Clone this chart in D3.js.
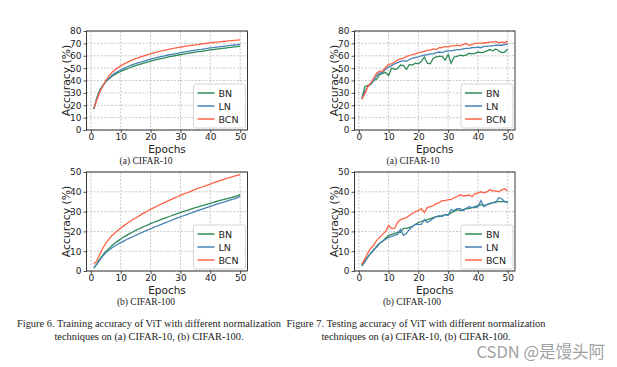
<!DOCTYPE html>
<html>
<head>
<meta charset="utf-8">
<script src="https://cdn.jsdelivr.net/npm/d3@7"></script>
<style>
  body { margin: 0; background: #fff; }
  svg { display: block; }
</style>
</head>
<body>
<svg id="fig" width="617" height="367"></svg>
<script>
// epochs 1..50
const epochs = d3.range(1, 51);
const seriesNames = ["BN", "LN", "BCN"];

// Fig 6 (a) training, CIFAR-10
const trainC10_BN = [17,26,32.5,36,39,41.3,43.2,44.8,46.1,47.3,48.4,49.4,50.3,51.2,52,52.8,53.5,54.2,54.9,55.6,56.2,56.8,57.4,57.9,58.5,59,59.5,60,60.4,60.9,61.3,61.7,62.1,62.5,62.9,63.3,63.6,64,64.3,64.7,65,65.3,65.6,65.9,66.2,66.5,66.8,67.1,67.3,67.6];
const trainC10_LN = [17,25,31.5,35.5,39,41.8,44,45.8,47.3,48.6,49.8,50.9,51.9,52.8,53.6,54.4,55.1,55.8,56.5,57.2,57.8,58.4,59,59.5,60.1,60.6,61.1,61.6,62,62.5,62.9,63.3,63.7,64.1,64.5,64.9,65.2,65.6,65.9,66.3,66.6,66.9,67.2,67.5,67.8,68.1,68.4,68.7,68.9,69.2];
const trainC10_BCN = [17.5,24,30.5,35.5,40,43.5,46.2,48.4,50.2,51.8,53.2,54.5,55.6,56.6,57.6,58.5,59.3,60.1,60.9,61.6,62.3,62.9,63.5,64.1,64.6,65.1,65.6,66.1,66.5,66.9,67.3,67.7,68.1,68.5,68.8,69.2,69.5,69.8,70.1,70.4,70.7,71,71.2,71.5,71.7,72,72.2,72.4,72.6,72.8];

// Fig 7 (a) testing, CIFAR-10
const testC10_BN = [25,35,36,37,40,41,45,45.5,46.5,44,50,49,49.5,52.5,52,49,53,52.5,54,53.5,55.5,59,54,53.5,58,59,59.5,59.5,56.5,61,54,59,59.5,60.5,60,60.5,62,61.5,62,63,62.5,63,64,65,64,65.5,64,62.5,63,65.5];
const testC10_LN = [25,31,35,37,40,44,46,46.5,49,51,52,53.5,54.5,55.5,56,55.5,57,58,58.5,59,60,60.5,61,61.5,61.5,62.5,63,62.5,63.5,64,64,64.5,65,65,65.5,66,66,66.5,66.5,67,66.5,67.5,67.5,68,68,68.5,68.5,68.5,69,69.5];
const testC10_BCN = [25,29,35,38,42,46,47.5,47.5,50.5,53,53.5,55,56.5,57.5,58,59.5,60,61,61.5,62.5,63,63.5,64.5,64.5,65.5,65,66.5,66.5,67.5,67,68,68,68.5,68,69,70,68.5,69,70,70,70,70.5,70.5,71,71,71.5,70.5,71,70.5,72];

// Fig 6 (b) training, CIFAR-100
const trainC100_BN = [1.5,3.5,6,8,9.8,11.3,12.7,14,15.1,16.2,17.1,18,18.9,19.7,20.5,21.2,21.9,22.6,23.2,23.9,24.5,25.1,25.7,26.3,26.8,27.4,27.9,28.5,29,29.5,30,30.5,31,31.5,32,32.4,32.9,33.3,33.8,34.2,34.7,35.1,35.5,35.9,36.3,36.7,37.1,37.5,37.9,38.6];
const trainC100_LN = [1.5,3.5,5.5,7.5,9.2,10.5,11.6,12.6,13.5,14.3,15.1,15.9,16.6,17.3,18,18.7,19.4,20,20.7,21.3,22,22.6,23.2,23.8,24.4,25,25.6,26.2,26.8,27.3,27.9,28.4,29,29.5,30.1,30.6,31.1,31.6,32.1,32.6,33.1,33.6,34.1,34.5,35,35.5,36,36.4,36.9,37.9];
const trainC100_BCN = [3.5,5,8.5,11.5,14,16,17.8,19.2,20.5,21.7,22.8,23.9,24.9,25.9,26.8,27.7,28.6,29.5,30.3,31.1,31.9,32.7,33.4,34.1,34.8,35.5,36.2,36.9,37.5,38.2,38.8,39.4,40,40.6,41.2,41.8,42.3,42.9,43.4,43.9,44.5,45,45.5,46,46.5,47,47.4,47.9,48.3,48.7];

// Fig 7 (b) testing, CIFAR-100
const testC100_BN = [2.5,4.5,7,9,10.5,12.5,14,15,16.5,18,18.5,19,19.5,19.5,21.5,21.5,22,22.5,23.5,24.5,25,25.5,26,26.5,27,27.5,27.5,28,28.5,28.5,29.5,30,31,30.5,31,31.5,31.5,32,32.5,33,33.5,33,33.5,34,34.5,35,35,35,35,35];
const testC100_LN = [3,5,7,9,11,12,14,15,16,17,17.5,18,18.5,21,18,19,21,22.5,23.5,23.5,23.5,26,24.5,25.5,26.5,27.5,28,27.5,28.5,28,31,30.5,31.5,31.5,30.5,31.5,32.5,32,32,32.5,35.5,32.5,33.5,34,34.5,34.5,37,36.5,35,34.5];
const testC100_BCN = [3.5,6,9,11.5,13,15.5,17,18.5,20,23,21.5,21.5,24.5,26,26.5,27,28,29,30,30.5,31.5,29.5,32,32.5,33,34,34.5,35.5,35.5,36,36,37,37.5,38.5,38,38,38.5,37.5,39,39.5,40,39.5,40,41,40.5,40.5,40,41,41.5,40.5];

const xTicks = [0, 10, 20, 30, 40, 50];
const yTicksC10 = [0, 10, 20, 30, 40, 50, 60, 70, 80];
const yTicksC100 = [0, 10, 20, 30, 40, 50];

const colors = { BN: "#2e8b57", LN: "#4682b4", BCN: "#ff6347" };

const svg = d3.select("#fig");

function drawPanel(box, yTicks, data, caption) {
  const x = d3.scaleLinear().domain([1 - 2.45, 50 + 2.45]).range([box.left, box.right]);
  const y = d3.scaleLinear().domain([0, d3.max(yTicks)]).range([box.bottom, box.top]);
  const g = svg.append("g");

  // grid
  g.selectAll(".gx").data(xTicks).enter().append("line")
    .attr("x1", d => x(d)).attr("x2", d => x(d))
    .attr("y1", box.top).attr("y2", box.bottom)
    .attr("stroke", "#b0b0b0").attr("stroke-width", 0.7).attr("stroke-dasharray", "2,1.5");
  g.selectAll(".gy").data(yTicks).enter().append("line")
    .attr("x1", box.left).attr("x2", box.right)
    .attr("y1", d => y(d)).attr("y2", d => y(d))
    .attr("stroke", "#b0b0b0").attr("stroke-width", 0.7).attr("stroke-dasharray", "2,1.5");

  // lines
  const line = d3.line().x((d, i) => x(epochs[i])).y(d => y(d));
  seriesNames.forEach(function(name) {
    g.append("path")
      .attr("d", line(data[name]))
      .attr("fill", "none")
      .attr("stroke", colors[name])
      .attr("stroke-width", 1.3);
  });

  // axes
  const xAxis = d3.axisBottom(x).tickValues(xTicks).tickSize(3).tickPadding(1).tickSizeOuter(0);
  const yAxis = d3.axisLeft(y).tickValues(yTicks).tickSize(3).tickPadding(2).tickSizeOuter(0);
  const ax = g.append("g").attr("transform", "translate(0," + box.bottom + ")").call(xAxis);
  const ay = g.append("g").attr("transform", "translate(" + box.left + ",0)").call(yAxis);
  [ax, ay].forEach(function(a) {
    a.select(".domain").remove();
    a.selectAll("text").attr("font-family", "DejaVu Sans").attr("font-size", 9).attr("fill", "#222");
    a.selectAll("line").attr("stroke", "#222").attr("stroke-width", 0.8);
  });

  g.append("rect")
    .attr("x", box.left).attr("y", box.top)
    .attr("width", box.right - box.left).attr("height", box.bottom - box.top)
    .attr("fill", "none").attr("stroke", "#222").attr("stroke-width", 0.9);

  // axis titles
  g.append("text")
    .attr("x", (box.left + box.right) / 2).attr("y", box.bottom + 22.5)
    .attr("text-anchor", "middle")
    .attr("font-family", "DejaVu Sans").attr("font-size", 10.5).attr("fill", "#222")
    .text("Epochs");
  g.append("text")
    .attr("transform", "translate(" + (box.left - 17) + "," + ((box.top + box.bottom) / 2) + ") rotate(-90)")
    .attr("text-anchor", "middle")
    .attr("font-family", "DejaVu Sans").attr("font-size", 10.8).attr("fill", "#222")
    .text("Accuracy (%)");

  // legend
  const lg = g.append("g").attr("transform", "translate(" + (box.right - 54) + "," + (box.bottom - 46) + ")");
  lg.append("rect").attr("width", 52).attr("height", 44).attr("rx", 2)
    .attr("fill", "#fff").attr("fill-opacity", 0.85)
    .attr("stroke", "#cccccc").attr("stroke-width", 0.8);
  seriesNames.forEach(function(name, i) {
    const yy = 9 + i * 13;
    lg.append("line").attr("x1", 4).attr("x2", 21).attr("y1", yy).attr("y2", yy)
      .attr("stroke", colors[name]).attr("stroke-width", 1.5);
    lg.append("text").attr("x", 25).attr("y", yy + 3.5)
      .attr("font-family", "DejaVu Sans").attr("font-size", 9.5).attr("fill", "#222")
      .text(name);
  });

  // sub caption
  svg.append("text")
    .attr("x", box.capX).attr("y", box.bottom + 33.5)
    .attr("text-anchor", "middle")
    .attr("font-family", "Liberation Serif").attr("font-size", 9.5).attr("fill", "#222")
    .text(caption);
}

drawPanel({ left: 86.5, right: 247.5, top: 31, bottom: 130, capX: 146 }, yTicksC10,
  { BN: trainC10_BN, LN: trainC10_LN, BCN: trainC10_BCN }, "(a) CIFAR-10");
drawPanel({ left: 354.5, right: 515, top: 31, bottom: 130, capX: 413 }, yTicksC10,
  { BN: testC10_BN, LN: testC10_LN, BCN: testC10_BCN }, "(a) CIFAR-10");
drawPanel({ left: 86.5, right: 247.5, top: 172, bottom: 271, capX: 146 }, yTicksC100,
  { BN: trainC100_BN, LN: trainC100_LN, BCN: trainC100_BCN }, "(b) CIFAR-100");
drawPanel({ left: 354.5, right: 515, top: 172, bottom: 271, capX: 412 }, yTicksC100,
  { BN: testC100_BN, LN: testC100_LN, BCN: testC100_BCN }, "(b) CIFAR-100");

// figure captions
const captions = [
  { x: 149, lines: ["Figure 6. Training accuracy of ViT with different normalization", "techniques on (a) CIFAR-10, (b) CIFAR-100."] },
  { x: 416, lines: ["Figure 7. Testing accuracy of ViT with different normalization", "techniques on (a) CIFAR-10, (b) CIFAR-100."] }
];
captions.forEach(function(c) {
  c.lines.forEach(function(t, i) {
    svg.append("text")
      .attr("x", c.x).attr("y", 327 + i * 13)
      .attr("text-anchor", "middle")
      .attr("font-family", "Liberation Serif").attr("font-size", 10.4).attr("fill", "#222")
      .text(t);
  });
});

svg.append("text")
  .attr("x", 605).attr("y", 358)
  .attr("text-anchor", "end")
  .attr("font-family", "Noto Sans CJK SC, DejaVu Sans").attr("font-size", 16.5).attr("fill", "#a0a0a0")
  .text("CSDN @是馒头阿");
</script>
</body>
</html>
